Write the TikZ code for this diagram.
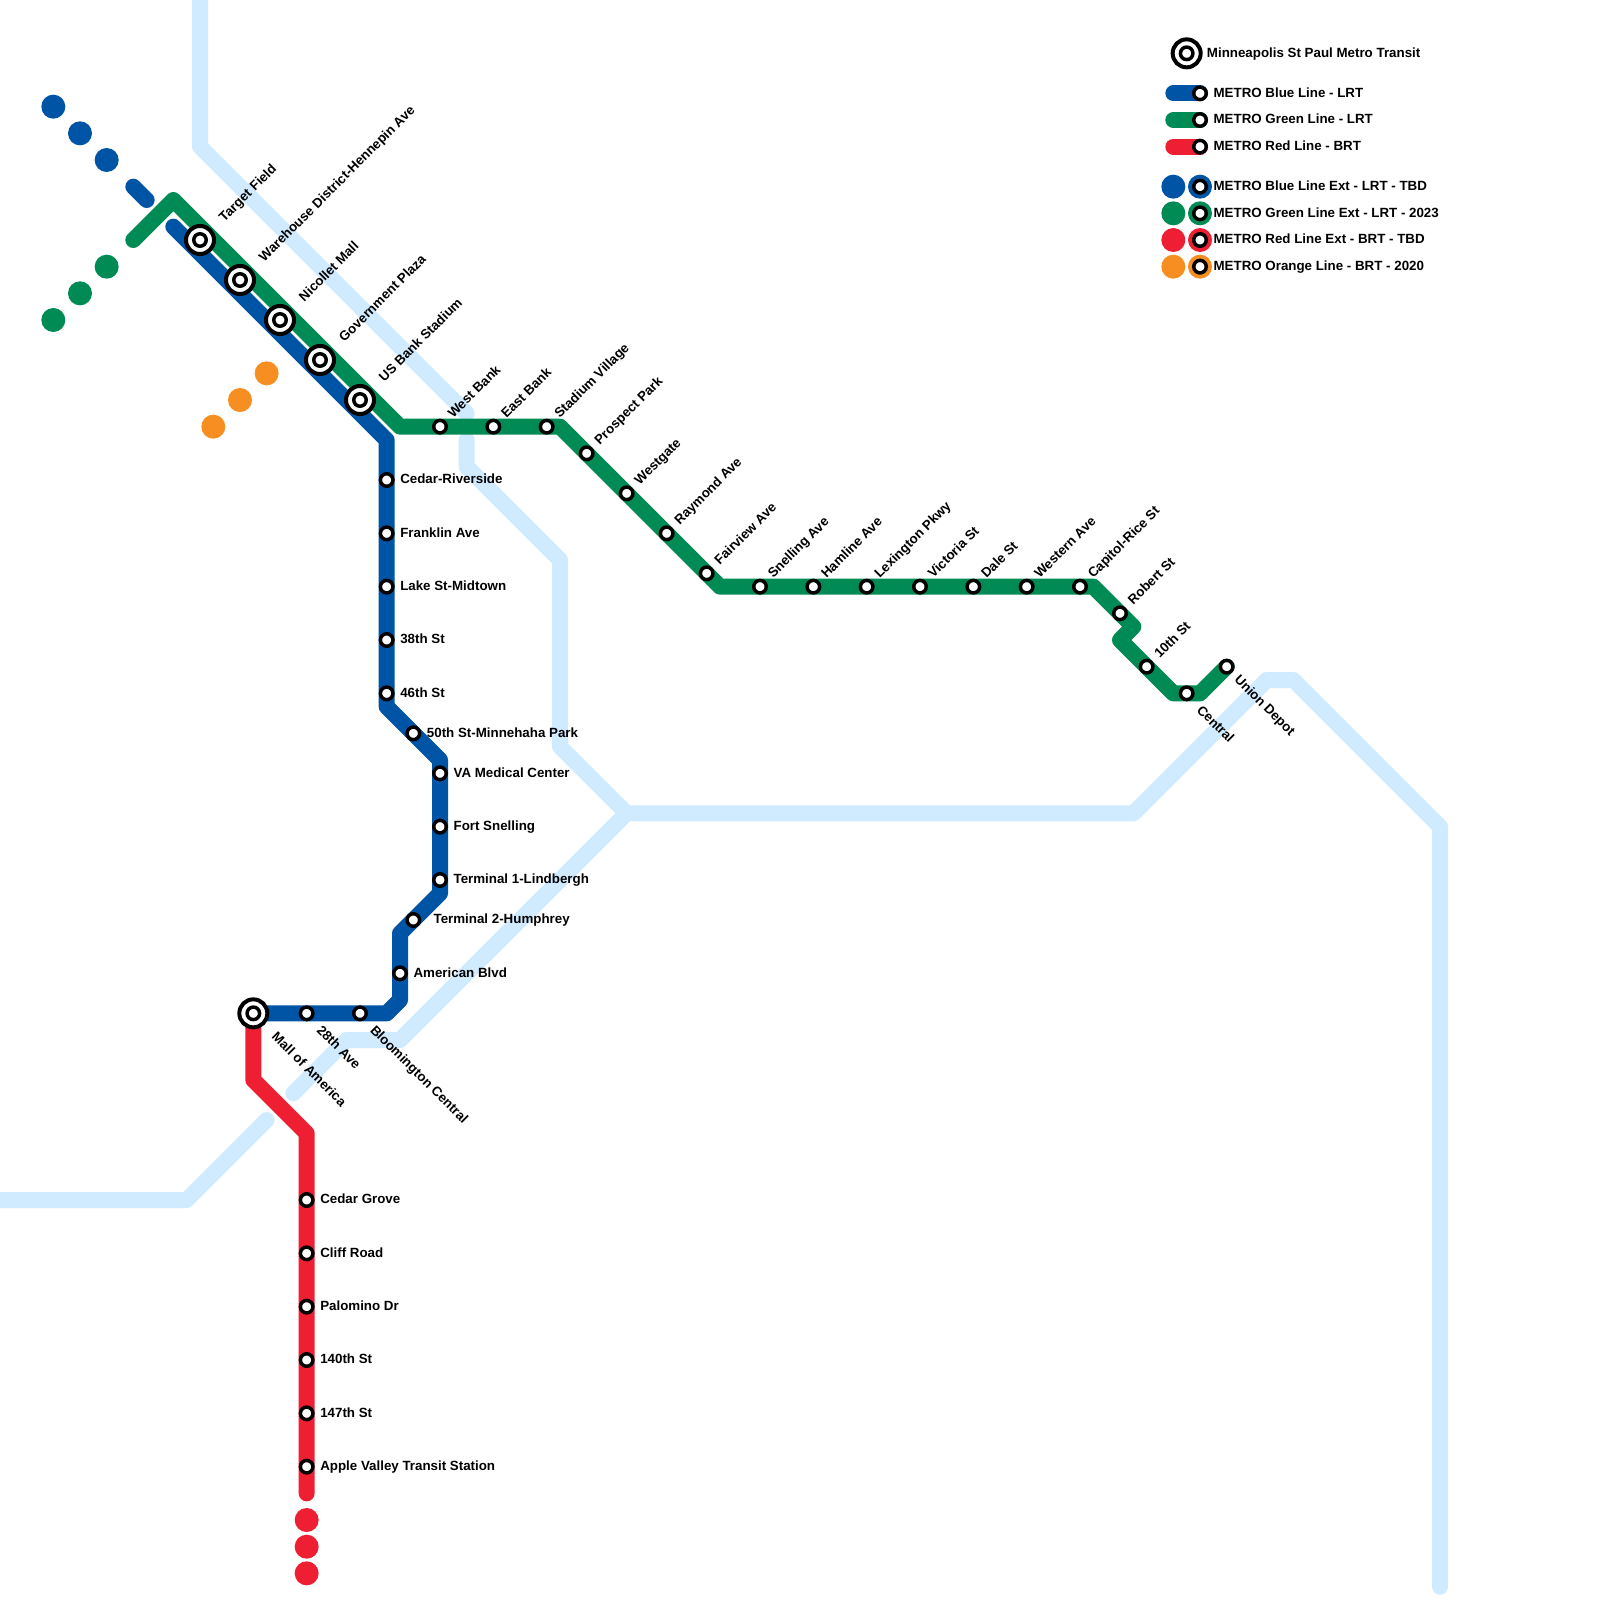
\documentclass[tikz,border=0pt]{standalone}
\usepackage{fontspec}
\setmainfont{Liberation Sans}

\definecolor{bluebar}{HTML}{0054A5}
\definecolor{greenbar}{HTML}{008B54}
\definecolor{redbar}{HTML}{EF1F33}
\definecolor{orangebar}{HTML}{F68E22}
\definecolor{waterbar}{HTML}{D0EBFF}

\tikzset{
    bar/.style={line width=12pt, line cap=round, line join=round},
    dot/.style={circle, minimum size=18pt, inner sep=0pt, outer sep=0pt},
    station/.style={circle, draw=black, fill=white, line width=2.6pt, minimum size=9.4pt, inner sep=0pt, outer sep=0pt},
    bigstation/.style={circle, draw=black, fill=white, line width=3pt, minimum size=21pt, inner sep=0pt, outer sep=0pt},
    lbl/.style={font=\fontsize{10}{12}\selectfont\bfseries, inner sep=0pt, text height=7.2pt, text depth=2.1pt, anchor=west},
    lblright/.style={lbl, xshift=10pt, yshift=-0.3pt},
    lblup/.style={lbl, xshift=8pt, yshift=7.5pt, rotate=45},
    lblbigup/.style={lbl, xshift=16.4pt, yshift=14.9pt, rotate=45},
    lbldown/.style={lbl, xshift=8.8pt, yshift=-11.3pt, rotate=-45},
}

\begin{document}
\begin{tikzpicture}[x=10pt, y=-10pt]
    \useasboundingbox (0,0) rectangle (120,120);
    \clip (0,0) rectangle (120,120);

    % Water
    \draw[bar, waterbar] (15,-2) -- (15,11) -- (35,31);
    \draw[bar, waterbar] (35,33) -- (35,35) -- (42,42) -- (42,56) -- (47,61) -- (85,61) -- (95,51) -- (97,51) -- (108,62) -- (108,119);
    \draw[bar, waterbar] (47,61) -- (30,78) -- (26,78) -- (22,82);
    \draw[bar, waterbar] (20,84) -- (14,90) -- (-2,90);

    % Green line
    \draw[bar, greenbar] (10,18) -- (13,15) -- (30,32) -- (42,32) -- (54,44) -- (82,44) -- (85,47) -- (84,48) -- (88,52) -- (90,52) -- (92,50);
    \foreach \i/\j in {8/20,6/22,4/24} {
        \node[dot, fill=greenbar] (gd\i) at (\i,\j) {};
    }

    % Red line
    \draw[bar, redbar] (19,76) -- (19,81) -- (23,85) -- (23,112);
    \foreach \j in {114,116,118} {
        \node[dot, fill=redbar] (rd\j) at (23,\j) {};
    }

    % Blue line
    \draw[bar, bluebar] (10,14) -- (11,15);
    \draw[bar, bluebar] (13,17) -- (29,33) -- (29,53) -- (33,57) -- (33,67) -- (30,70) -- (30,75) -- (29,76) -- (19,76);
    \foreach \i/\j in {4/8,6/10,8/12} {
        \node[dot, fill=bluebar] (bd\i) at (\i,\j) {};
    }

    % Orange line
    \foreach \i/\j in {20/28,18/30,16/32} {
        \node[dot, fill=orangebar] (od\i) at (\i,\j) {};
    }

    % Downtown stations
    \foreach \i/\j/\t in {15/18/Target Field,18/21/Warehouse District-Hennepin Ave,21/24/Nicollet Mall,24/27/Government Plaza,27/30/US Bank Stadium} {
        \node[bigstation] (big\i) at (\i,\j) {};
        \node[station] (st\i-\j) at (\i,\j) {};
        \node[lblbigup] (lb\i-\j) at (\i,\j) {\t};
    }

    % Mall of America
    \node[bigstation] (bigmoa) at (19,76) {};
    \node[station] (st19-76) at (19,76) {};
    \node[lbl, xshift=15pt, yshift=-16.3pt, rotate=-45] (lb19-76) at (19,76) {Mall of America};

    % Stations, label to the right
    \foreach \i/\j/\t in {29/36/Cedar-Riverside,29/40/Franklin Ave,29/44/Lake St-Midtown,29/48/38th St,29/52/46th St,31/55/50th St-Minnehaha Park,33/58/VA Medical Center,33/62/Fort Snelling,33/66/Terminal 1-Lindbergh,30/73/American Blvd,23/90/Cedar Grove,23/94/Cliff Road,23/98/Palomino Dr,23/102/140th St,23/106/147th St,23/110/Apple Valley Transit Station} {
        \node[station] (st\i-\j) at (\i,\j) {};
        \node[lblright] (lb\i-\j) at (\i,\j) {\t};
    }
    \node[station] (st31-69) at (31,69) {};
    \node[lblright, xshift=5pt] (lb31-69) at (31,69) {Terminal 2-Humphrey};

    % Stations, label going up
    \foreach \i/\j/\t in {33/32/West Bank,37/32/East Bank,41/32/Stadium Village,44/34/Prospect Park,47/37/Westgate,50/40/Raymond Ave,53/43/Fairview Ave,57/44/Snelling Ave,61/44/Hamline Ave,65/44/Lexington Pkwy,69/44/Victoria St,73/44/Dale St,77/44/Western Ave,81/44/Capitol-Rice St,84/46/Robert St,86/50/10th St} {
        \node[station] (st\i-\j) at (\i,\j) {};
        \node[lblup] (lb\i-\j) at (\i,\j) {\t};
    }

    % Stations, label going down
    \foreach \i/\j/\t in {23/76/28th Ave,27/76/Bloomington Central,89/52/Central} {
        \node[station] (st\i-\j) at (\i,\j) {};
        \node[lbldown] (lb\i-\j) at (\i,\j) {\t};
    }
    \node[station] (st92-50) at (92,50) {};
    \node[lbl, xshift=7pt, yshift=-8.5pt, rotate=-45] (lb92-50) at (92,50) {Union Depot};

    % Legend
    \node[bigstation] (legbig) at (89,4) {};
    \node[station] (legsmall) at (89,4) {};
    \node[lbl, xshift=15pt, yshift=-0.4pt] (legtitle) at (89,4) {Minneapolis St Paul Metro Transit};

    \foreach \j/\c/\t in {7/bluebar/METRO Blue Line - LRT,9/greenbar/METRO Green Line - LRT,11/redbar/METRO Red Line - BRT} {
        \draw[bar, \c] (88,\j) -- (90,\j);
        \node[station] (leg\j) at (90,\j) {};
        \node[lblright] (legt\j) at (90,\j) {\t};
    }

    \foreach \j/\c/\t in {14/bluebar/METRO Blue Line Ext - LRT - TBD,16/greenbar/METRO Green Line Ext - LRT - 2023,18/redbar/METRO Red Line Ext - BRT - TBD,20/orangebar/METRO Orange Line - BRT - 2020} {
        \node[dot, fill=\c] (legd\j) at (88,\j) {};
        \node[dot, fill=\c] (lege\j) at (90,\j) {};
        \node[station] (leg\j) at (90,\j) {};
        \node[lblright] (legt\j) at (90,\j) {\t};
    }

\end{tikzpicture}
\end{document}
